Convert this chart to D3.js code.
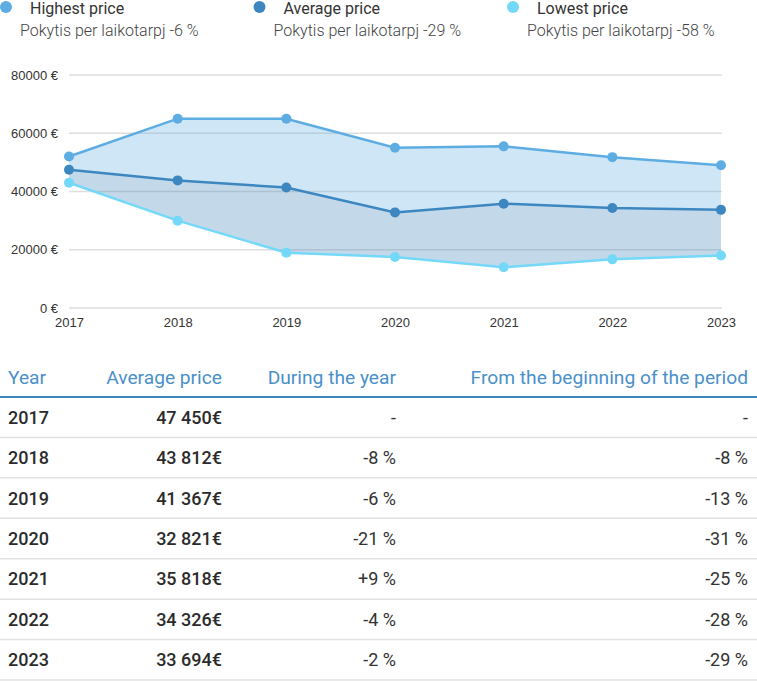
<!DOCTYPE html>
<html>
<head>
<meta charset="utf-8">
<script src="https://cdn.jsdelivr.net/npm/d3@7"></script>
<style>
  body { margin: 0; background: #fff; }
  svg { display: block; }
</style>
</head>
<body>
<div id="chart"></div>
<script>
/**
 * DATA
 * */
const years = [2017, 2018, 2019, 2020, 2021, 2022, 2023];
const highestPrice = [52000, 65000, 65000, 55000, 55500, 51800, 49000];
const averagePrice = [47450, 43812, 41367, 32821, 35818, 34326, 33694];
const lowestPrice = [43000, 30000, 19000, 17500, 14000, 16700, 18000];
const yTicks = [0, 20000, 40000, 60000, 80000];
const seriesNames = ["Highest price", "Average price", "Lowest price"];
const periodChange = ["-6 %", "-29 %", "-58 %"];
const yearChange = ["-", "-8 %", "-6 %", "-21 %", "+9 %", "-4 %", "-2 %"];
const totalChange = ["-", "-8 %", "-13 %", "-31 %", "-25 %", "-28 %", "-29 %"];
const tableHeaders = ["Year", "Average price", "During the year", "From the beginning of the period"];

/**
 * CONSTANTS
 * */
const width = 757, height = 681;
const colors = ["#5dade2", "#3d87c1", "#74d8f9"];
const textColor = "#333";

const svg = d3.select("#chart").append("svg")
  .attr("width", width)
  .attr("height", height)
  .style("font-family", "Roboto, sans-serif");

const rows = years.map((y, i) => ({
  year: y, high: highestPrice[i], avg: averagePrice[i], low: lowestPrice[i],
  during: yearChange[i], total: totalChange[i]
}));

/**
 * LEGEND
 * */
const legend = svg.append("g")
  .selectAll("g")
  .data(seriesNames)
  .join("g")
  .attr("transform", (d, i) => `translate(${i * 253.5},0)`);

legend.append("circle")
  .attr("cx", 6).attr("cy", 7).attr("r", 6)
  .attr("fill", (d, i) => colors[i]);
legend.append("text")
  .attr("x", 30).attr("y", 14)
  .attr("font-size", 16)
  .attr("font-weight", 400)
  .attr("fill", textColor)
  .text(d => d);
legend.append("text")
  .attr("x", 20).attr("y", 36)
  .attr("font-size", 16)
  .attr("font-weight", 300)
  .attr("fill", "#444")
  .text((d, i) => `Pokytis per laikotarpj ${periodChange[i]}`);

/**
 * LINE CHART
 * */
const x = d3.scalePoint().domain(years).range([69, 721]);
const y = d3.scaleLinear().domain([0, 80000]).range([308, 75]);

const chart = svg.append("g");

chart.append("g")
  .selectAll("line")
  .data(yTicks)
  .join("line")
  .attr("x1", 69).attr("x2", 722)
  .attr("y1", d => y(d)).attr("y2", d => y(d))
  .attr("stroke", "#dedede")
  .attr("stroke-width", 1.5);

chart.append("g")
  .attr("transform", "translate(58,0)")
  .call(d3.axisLeft(y).tickValues(yTicks).tickSize(0).tickPadding(0).tickFormat(d => `${d} €`))
  .call(g => g.select(".domain").remove())
  .call(g => g.selectAll("text")
    .attr("font-family", "'Liberation Sans', Arial, sans-serif")
    .attr("font-size", 13)
    .attr("fill", textColor));

chart.append("g")
  .attr("transform", "translate(0,315)")
  .call(d3.axisBottom(x).tickSize(0).tickPadding(3))
  .call(g => g.select(".domain").remove())
  .call(g => g.selectAll("text")
    .attr("font-family", "'Liberation Sans', Arial, sans-serif")
    .attr("font-size", 13)
    .attr("fill", textColor));

const upperArea = d3.area().x(d => x(d.year)).y0(d => y(d.avg)).y1(d => y(d.high));
const lowerArea = d3.area().x(d => x(d.year)).y0(d => y(d.low)).y1(d => y(d.avg));

chart.append("path")
  .datum(rows)
  .attr("d", upperArea)
  .attr("fill", colors[0])
  .attr("fill-opacity", 0.3);
chart.append("path")
  .datum(rows)
  .attr("d", lowerArea)
  .attr("fill", "#3780b9")
  .attr("fill-opacity", 0.3);

const keys = ["high", "avg", "low"];
keys.forEach((k, i) => {
  chart.append("path")
    .datum(rows)
    .attr("d", d3.line().x(d => x(d.year)).y(d => y(d[k])))
    .attr("fill", "none")
    .attr("stroke", colors[i])
    .attr("stroke-width", 2.5);
  chart.append("g")
    .selectAll("circle")
    .data(rows)
    .join("circle")
    .attr("cx", d => x(d.year))
    .attr("cy", d => y(d[k]))
    .attr("r", 5)
    .attr("fill", colors[i]);
});

/**
 * TABLE
 * */
const table = svg.append("g");
const rowY = d3.scaleBand().domain(years).range([397, 680]);
const fmt = d3.formatLocale({ decimal: ",", thousands: " ", grouping: [3], currency: ["", "€"] }).format("$,.0f");

const colX = [8, 222, 396, 748];
const colAnchor = ["start", "end", "end", "end"];

table.append("g")
  .selectAll("text")
  .data(tableHeaders)
  .join("text")
  .attr("x", (d, i) => colX[i])
  .attr("y", 384)
  .attr("text-anchor", (d, i) => colAnchor[i])
  .attr("font-size", 19.2)
  .attr("fill", "#4a90c9")
  .text(d => d);

table.append("line")
  .attr("x1", 0).attr("x2", width)
  .attr("y1", 397).attr("y2", 397)
  .attr("stroke", "#3d87c1")
  .attr("stroke-width", 2);

const tr = table.append("g")
  .selectAll("g")
  .data(rows)
  .join("g")
  .attr("transform", d => `translate(0,${rowY(d.year)})`);

tr.append("line")
  .attr("x1", 0).attr("x2", width)
  .attr("y1", rowY.bandwidth()).attr("y2", rowY.bandwidth())
  .attr("stroke", "#e2e2e2")
  .attr("stroke-width", 1.5);

const cells = [
  d => d.year,
  d => fmt(d.avg),
  d => d.during,
  d => d.total
];
cells.forEach((f, i) => {
  tr.append("text")
    .attr("x", colX[i])
    .attr("y", rowY.bandwidth() / 2 + 6.5)
    .attr("text-anchor", colAnchor[i])
    .attr("font-size", 18)
    .attr("font-weight", i < 2 ? 500 : 400)
    .attr("fill", i < 2 ? "#2b2b2b" : "#333")
    .text(f);
});
</script>
</body>
</html>
